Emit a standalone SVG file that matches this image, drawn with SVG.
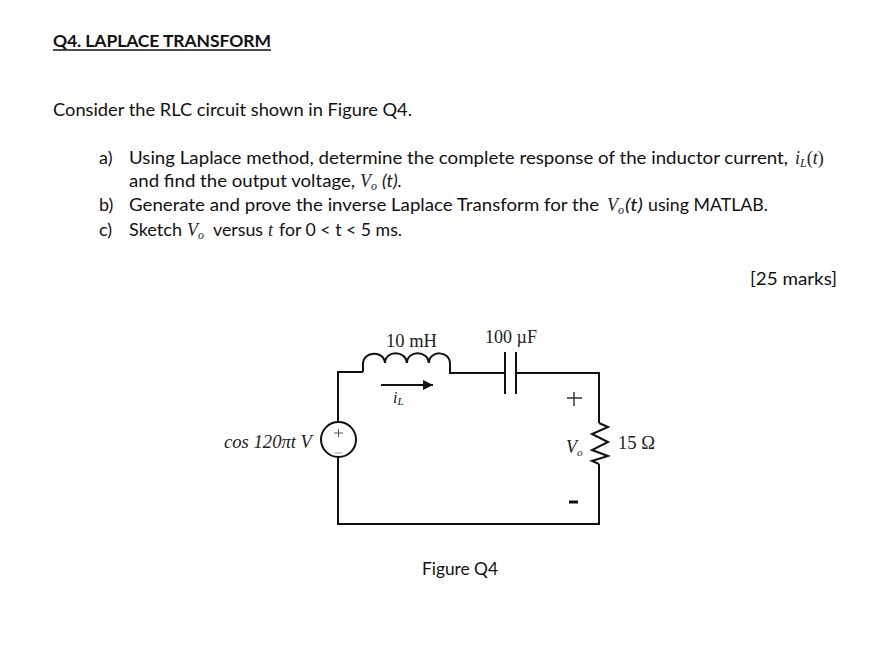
<svg xmlns="http://www.w3.org/2000/svg" width="895" height="658" viewBox="0 0 895 658">
<style>
.t{font-family:"Lato","Carlito","Liberation Sans",sans-serif;font-size:18px;fill:#111}
.b{font-weight:700;font-size:17.500px}
.s{font-family:"Liberation Serif",serif;fill:#222}
.i{font-style:italic}
.w{fill:none;stroke:#111;stroke-width:2}
</style>
<defs><marker id="ah" markerWidth="11" markerHeight="11" refX="10" refY="5" orient="auto" markerUnits="userSpaceOnUse"><path d="M0 0L10 5L0 10Z" fill="#111"/></marker></defs>
<rect width="895" height="658" fill="#fff"/>
<g id="text">
<text class="t b" x="53" y="47" textLength="218" lengthAdjust="spacing">Q4. LAPLACE TRANSFORM</text>
<path d="M53 50H271" stroke="#111" stroke-width="1.500"/>
<text class="t" x="53" y="116" textLength="359" lengthAdjust="spacingAndGlyphs">Consider the RLC circuit shown in Figure Q4.</text>
<text class="t" x="99" y="164">a)</text>
<text class="t" x="129" y="164" textLength="659" lengthAdjust="spacingAndGlyphs">Using Laplace method, determine the complete response of the inductor current,</text>
<text class="s i" x="795" y="164" font-size="18">i<tspan font-size="12" dy="3">L</tspan><tspan dy="-3" font-style="normal">(</tspan>t<tspan font-style="normal">)</tspan></text>
<text class="t" x="129" y="187" textLength="226" lengthAdjust="spacingAndGlyphs">and find the output voltage,</text>
<text class="s i" x="360" y="187" font-size="18">V<tspan font-size="12" dy="3">o</tspan></text>
<text class="t i" x="382" y="187" textLength="20" lengthAdjust="spacingAndGlyphs">(t).</text>
<text class="t" x="99" y="211">b)</text>
<text class="t" x="129" y="211" textLength="470" lengthAdjust="spacingAndGlyphs">Generate and prove the inverse Laplace Transform for the</text>
<text class="s i" x="607" y="211" font-size="18">V<tspan font-size="12" dy="3">o</tspan></text>
<text class="t i" x="625" y="211" textLength="18" lengthAdjust="spacingAndGlyphs">(t)</text>
<text class="t" x="648" y="211" textLength="120" lengthAdjust="spacingAndGlyphs">using MATLAB.</text>
<text class="t" x="99" y="236">c)</text>
<text class="t" x="129" y="236" textLength="53" lengthAdjust="spacingAndGlyphs">Sketch</text>
<text class="s i" x="187" y="236" font-size="18">V<tspan font-size="12" dy="3">o</tspan></text>
<text class="t" x="213" y="236" textLength="50" lengthAdjust="spacingAndGlyphs">versus</text>
<text class="s i" x="268" y="236" font-size="18">t</text>
<text class="t" x="279" y="236" textLength="123" lengthAdjust="spacingAndGlyphs">for 0 &lt; t &lt; 5 ms.</text>
<text class="t" x="750" y="285" textLength="87" lengthAdjust="spacingAndGlyphs">[25 marks]</text>
<text class="t" x="422" y="575" textLength="76" lengthAdjust="spacingAndGlyphs">Figure Q4</text>
</g>
<g id="connectors">
<path class="w" d="M363 372H338V423M338 457V524H599V464M599 423V373H516M505 373H449"/>
<path class="w" d="M381 385H433" marker-end="url(#ah)"/>
</g>
<g id="inductor">
<path class="w" d="M363 372V364C363 351 384 350 385 363C385 350 406 350 407 363C407 350 428 350 429 363C429 350 450 350 450 364V372"/>
<text class="s" x="386" y="347" font-size="18" textLength="51" lengthAdjust="spacingAndGlyphs">10 mH</text>
<text class="s i" x="393" y="403" font-size="16">i<tspan font-size="11" dy="2">L</tspan></text>
</g>
<g id="capacitor">
<path class="w" d="M505 352V394M516 352V394"/>
<text class="s" x="485" y="343" font-size="18" textLength="52" lengthAdjust="spacingAndGlyphs">100 µF</text>
</g>
<g id="resistor">
<path class="w" d="M599 423L608 427L592 434L608 442L592 450L608 456L592 461L599 464"/>
<text class="s" x="618" y="449" font-size="18" textLength="37" lengthAdjust="spacingAndGlyphs">15 Ω</text>
<text class="s i" x="566" y="453" font-size="18">V<tspan font-size="11" dy="3">o</tspan></text>
<path d="M567 398H582M574 392V406" stroke="#333" stroke-width="1.400"/>
<path d="M569 502H578" stroke="#111" stroke-width="3"/>
</g>
<g id="source">
<circle class="w" cx="338.500" cy="439.500" r="17.500"/>
<path d="M334 433H343M338.500 429V437" stroke="#555" stroke-width="1"/>
<path d="M335 453H342" stroke="#999" stroke-width="1"/>
<text class="s i" x="224" y="448" font-size="19" textLength="88" lengthAdjust="spacingAndGlyphs">cos 120πt V</text>
</g>
</svg>
